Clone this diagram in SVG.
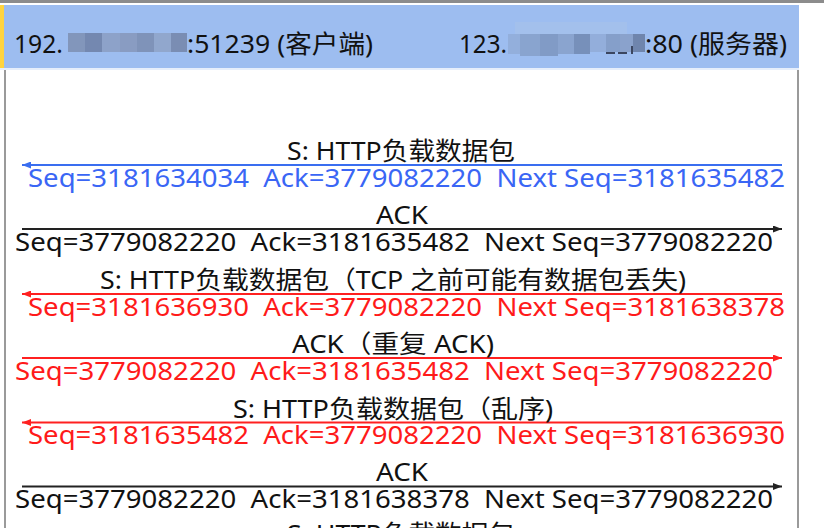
<svg xmlns="http://www.w3.org/2000/svg" width="824" height="528" viewBox="0 0 824 528">
  <style>
    text { font-family: "Noto Sans", "Noto Sans CJK SC", sans-serif; }
    .hdr { font-size: 25px; fill: #111; }
    .lbl { font-size: 25px; fill: #111; }
    .num { font-size: 25px; }
    .blue { fill: #3a66f5; }
    .red { fill: #ff1a1a; }
    .blk { fill: #111; }
    .ln { stroke-width: 1.8; fill: none; }
    .lb { stroke: #3a6ef0; }
    .lr { stroke: #ff2020; }
    .lk { stroke: #222; }
  </style>
  <defs>
    <marker id="ab" markerUnits="userSpaceOnUse" markerWidth="9" markerHeight="7" refX="9" refY="3.5" orient="auto">
      <path d="M0,0 L9,3.5 L0,7 z" fill="#3a6ef0"/>
    </marker>
    <marker id="ar" markerUnits="userSpaceOnUse" markerWidth="9" markerHeight="7" refX="9" refY="3.5" orient="auto">
      <path d="M0,0 L9,3.5 L0,7 z" fill="#ff2020"/>
    </marker>
    <marker id="ak" markerUnits="userSpaceOnUse" markerWidth="9" markerHeight="7" refX="9" refY="3.5" orient="auto">
      <path d="M0,0 L9,3.5 L0,7 z" fill="#222"/>
    </marker>
  </defs>

  <rect x="0" y="0" width="824" height="528" fill="#ffffff"/>
  <!-- top border -->
  <rect x="0" y="0" width="824" height="3" fill="#8c8c8c"/>
  <!-- header band -->
  <g id="header">
    <rect x="0" y="5" width="799" height="63" fill="#9dbdf0"/>
    <rect x="0" y="5" width="4" height="63" fill="#ffd43f"/>
    <rect x="0" y="68" width="799" height="2" fill="#e6eefb"/>
  </g>
  <!-- lifelines / side borders -->
  <rect x="4" y="70" width="2" height="458" fill="#9a9a9a"/>
  <rect x="797" y="70" width="2" height="458" fill="#9a9a9a"/>

  <g id="client">
    <text class="hdr" x="14" y="53" textLength="49" lengthAdjust="spacingAndGlyphs">192.</text>
    <rect x="68" y="33" width="17" height="19" fill="#8296bb"/>
    <rect x="85" y="33" width="17" height="19" fill="#7488b0"/>
    <rect x="102" y="33" width="18" height="19" fill="#8da2c9"/>
    <rect x="120" y="33" width="17" height="19" fill="#899cc2"/>
    <rect x="137" y="33" width="17" height="19" fill="#7f93b9"/>
    <rect x="154" y="33" width="17" height="19" fill="#91a7cd"/>
    <rect x="171" y="33" width="16" height="19" fill="#7a8db3"/>
    <text class="hdr" x="187" y="53" textLength="186" lengthAdjust="spacingAndGlyphs">:51239 (客户端)</text>
  </g>

  <g id="server">
    <text class="hdr" x="459" y="53" textLength="48" lengthAdjust="spacingAndGlyphs">123.</text>
    <rect x="515" y="22" width="112" height="14" fill="#a3c0ec"/>
    <rect x="508" y="34" width="12" height="20" fill="#93afdc"/>
    <rect x="520" y="34" width="20" height="22" fill="#89a4cf"/>
    <rect x="540" y="34" width="18" height="22" fill="#819bc6"/>
    <rect x="558" y="34" width="16" height="20" fill="#8aa4cf"/>
    <rect x="574" y="34" width="16" height="20" fill="#7790ba"/>
    <rect x="590" y="34" width="16" height="18" fill="#93aedb"/>
    <rect x="606" y="34" width="14" height="18" fill="#859fca"/>
    <rect x="620" y="34" width="13" height="18" fill="#8aa2cc"/>
    <rect x="633" y="34" width="12" height="18" fill="#6f85ad"/>
    <rect x="606" y="52" width="9" height="2" fill="#3b4660"/>
    <rect x="618" y="52" width="9" height="2" fill="#3b4660"/>
    <rect x="631" y="46" width="2" height="8" fill="#3b4660"/>
    <text class="hdr" x="645" y="53" textLength="142" lengthAdjust="spacingAndGlyphs">:80 (服务器)</text>
  </g>

  <g id="connectors">
    <line class="ln lb" x1="782" y1="165" x2="22" y2="165" marker-end="url(#ab)"/>
    <line class="ln lk" x1="22" y1="229" x2="782" y2="229" marker-end="url(#ak)"/>
    <line class="ln lr" x1="782" y1="294" x2="22" y2="294" marker-end="url(#ar)"/>
    <line class="ln lr" x1="22" y1="358" x2="782" y2="358" marker-end="url(#ar)"/>
    <line class="ln lr" x1="782" y1="422.5" x2="22" y2="422.5" marker-end="url(#ar)"/>
    <line class="ln lk" x1="22" y1="486.5" x2="782" y2="486.5" marker-end="url(#ak)"/>
  </g>

  <g id="msg1">
    <text class="lbl" x="287" y="160" textLength="228" lengthAdjust="spacingAndGlyphs">S: HTTP负载数据包</text>
    <text class="num blue" x="28" y="187" textLength="757" lengthAdjust="spacingAndGlyphs" xml:space="preserve">Seq=3181634034  Ack=3779082220  Next Seq=3181635482</text>
  </g>
  <g id="msg2">
    <text class="lbl" x="376" y="224" textLength="52" lengthAdjust="spacingAndGlyphs">ACK</text>
    <text class="num blk" x="15" y="251" textLength="758" lengthAdjust="spacingAndGlyphs" xml:space="preserve">Seq=3779082220  Ack=3181635482  Next Seq=3779082220</text>
  </g>
  <g id="msg3">
    <text class="lbl" x="100" y="289" textLength="586" lengthAdjust="spacingAndGlyphs">S: HTTP负载数据包（TCP 之前可能有数据包丢失)</text>
    <text class="num red" x="28" y="316" textLength="757" lengthAdjust="spacingAndGlyphs" xml:space="preserve">Seq=3181636930  Ack=3779082220  Next Seq=3181638378</text>
  </g>
  <g id="msg4">
    <text class="lbl" x="292" y="353" textLength="202" lengthAdjust="spacingAndGlyphs">ACK（重复 ACK)</text>
    <text class="num red" x="15" y="380" textLength="758" lengthAdjust="spacingAndGlyphs" xml:space="preserve">Seq=3779082220  Ack=3181635482  Next Seq=3779082220</text>
  </g>
  <g id="msg5">
    <text class="lbl" x="233" y="418" textLength="320" lengthAdjust="spacingAndGlyphs">S: HTTP负载数据包（乱序)</text>
    <text class="num red" x="28" y="444" textLength="757" lengthAdjust="spacingAndGlyphs" xml:space="preserve">Seq=3181635482  Ack=3779082220  Next Seq=3181636930</text>
  </g>
  <g id="msg6">
    <text class="lbl" x="376" y="481" textLength="52" lengthAdjust="spacingAndGlyphs">ACK</text>
    <text class="num blk" x="15" y="508" textLength="758" lengthAdjust="spacingAndGlyphs" xml:space="preserve">Seq=3779082220  Ack=3181638378  Next Seq=3779082220</text>
  </g>
  <g id="msg7">
    <text class="lbl" x="287" y="543" textLength="228" lengthAdjust="spacingAndGlyphs">S: HTTP负载数据包</text>
  </g>
</svg>
